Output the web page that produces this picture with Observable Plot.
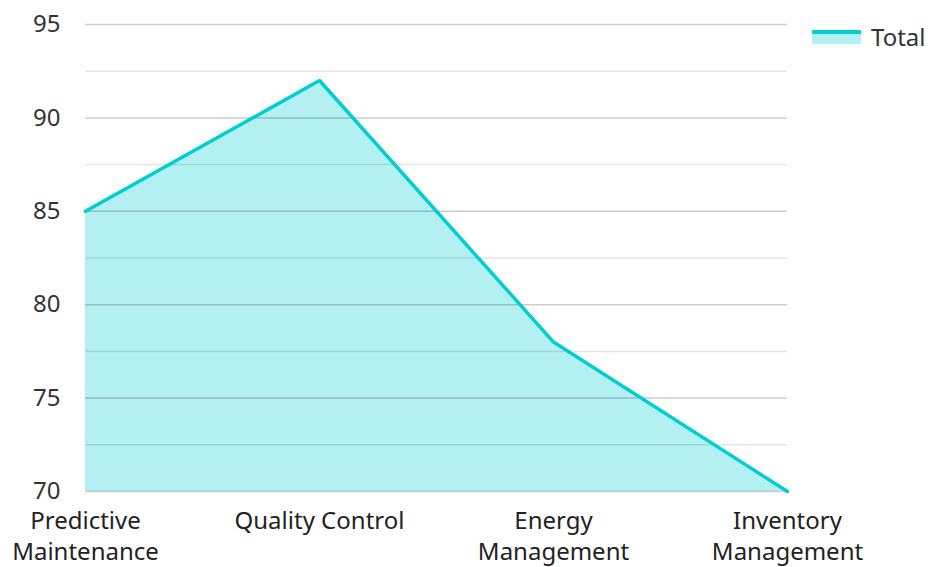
<!DOCTYPE html>
<html>
<head>
<meta charset="utf-8">
<script src="https://cdn.jsdelivr.net/npm/d3@7"></script>
<script src="https://cdn.jsdelivr.net/npm/@observablehq/plot@0.6"></script>
<style>
  body { margin: 0; background: #fff; font-family: "Noto Sans", sans-serif; }
  #wrap { position: relative; width: 928px; height: 567px; }
  #legend { position: absolute; left: 812px; top: 20px; display: flex; align-items: center; font-size: 24px; color: #333; }
  #legend .sw { width: 49px; height: 14px; position: relative; margin-right: 10px; }
  #legend .sw .ln { position: absolute; left: 0; top: 0; width: 49px; height: 4px; background: #00CED1; }
  #legend .sw .fl { position: absolute; left: 0; top: 4px; width: 49px; height: 10px; background: #b3f0f1; }
</style>
</head>
<body>
<div id="wrap">
  <div id="chart"></div>
  <div id="legend"><div class="sw"><div class="ln"></div><div class="fl"></div></div><span>Total</span></div>
</div>
<script>
const categories = ["Predictive Maintenance", "Quality Control", "Energy Management", "Inventory Management"];
const totals = [85, 92, 78, 70];
const majorTicks = [70, 75, 80, 85, 90, 95];
const minorTicks = [72.5, 77.5, 82.5, 87.5, 92.5];
const seriesName = "Total";

const data = categories.map((c, i) => ({category: c, value: totals[i], series: seriesName}));
const labelText = {
  "Predictive Maintenance": "Predictive\nMaintenance",
  "Quality Control": "Quality Control",
  "Energy Management": "Energy\nManagement",
  "Inventory Management": "Inventory\nManagement"
};

const chart = Plot.plot({
  width: 928,
  height: 567,
  marginLeft: 85,
  marginRight: 141,
  marginTop: 24,
  marginBottom: 76,
  style: {fontFamily: "Noto Sans, sans-serif", fontSize: "24px", color: "#333", background: "#fff"},
  x: {type: "point", domain: categories, padding: 0},
  y: {domain: [70, 95]},
  marks: [
    Plot.areaY(data, {x: "category", y1: 70, y2: "value", fill: "#00CED1", fillOpacity: 0.3, curve: "linear"}),
    Plot.ruleY(minorTicks, {stroke: "#000", strokeOpacity: 0.1, strokeWidth: 1.5}),
    Plot.ruleY(majorTicks, {stroke: "#000", strokeOpacity: 0.2, strokeWidth: 1.5}),
    Plot.lineY(data, {x: "category", y: "value", stroke: "#00CED1", strokeWidth: 3.5, curve: "linear"}),
    Plot.axisY({ticks: majorTicks, tickSize: 0, tickPadding: 25, fontSize: 24, fill: "#333", label: null}),
    Plot.axisX({tickSize: 0, tickPadding: 15, fontSize: 24, fill: "#222", label: null, lineHeight: 1.3, tickFormat: d => labelText[d]})
  ]
});
document.getElementById("chart").appendChild(chart);
</script>
</body>
</html>
